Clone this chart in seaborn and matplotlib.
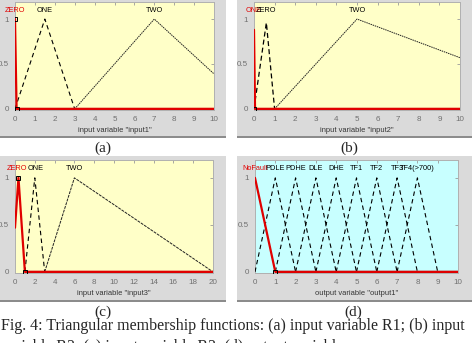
import matplotlib
matplotlib.use("Agg")
import matplotlib.pyplot as plt
import seaborn as sns
import pandas as pd
from matplotlib.patches import Rectangle

# ---- membership functions (vertices of each polyline) ----
# (a) input1, range 0..10
a_names = ["ZERO", "ONE", "TWO"]
a_x = [[0, 0.08, 10], [0, 1.5, 3], [3, 7, 10]]
a_y = [[1, 0, 0], [0, 1, 0], [0, 1, 0.39]]
a_label_x = [0, 1.5, 7]

# (b) input2, range 0..10
b_names = ["ONE", "ZERO", "TWO"]
b_x = [[0, 0.05, 10], [0, 0.6, 1], [1, 5, 10]]
b_y = [[0.88, 0, 0], [0, 0.96, 0], [0, 1, 0.57]]
b_label_x = [0, 0.6, 5]

# (c) input3, range 0..20
c_names = ["ZERO", "ONE", "TWO"]
c_x = [[0, 0.35, 1, 20], [1, 2, 3], [3, 6, 20]]
c_y = [[0.47, 1, 0, 0], [0, 1, 0], [0, 1, 0]]
c_label_x = [0.2, 2.1, 6]

# (d) output1, range 0..10
d_names = ["NoFault", "PDLE", "PDHE", "DLE", "DHE", "TF1", "TF2", "TF3", "TF4(>700)"]
d_peaks = [0, 1, 2, 3, 4, 5, 6, 7, 8]
d_x = [[0, 1, 10]] + [[p - 1, p, p + 1] for p in d_peaks[1:]]
d_y = [[1, 0, 0]] + [[0, 1, 0] for _ in d_peaks[1:]]
d_label_x = d_peaks

x_ticks_a = list(range(0, 11))
x_ticks_c = list(range(0, 21, 2))
y_ticks = [0, 0.5, 1]
y_tick_labels = ["0", "0.5", "1"]

sns.set_theme(style="white")
plt.rcParams['font.family'] = ['Liberation Sans', 'DejaVu Sans']

W, H = 474, 343
fig = plt.figure(figsize=(W / 100, H / 100), dpi=100)
fig.patch.set_facecolor("white")


def fx(px):
    return px / W


def fy(py):
    return 1 - py / H


PANEL_GRAY = "#dadada"
SHADOW = "#8c8c8c"


def panel(x0, y0, x1, y1):
    fig.add_artist(Rectangle((fx(x0), fy(y1)), fx(x1 - x0), (y1 - y0) / H,
                             transform=fig.transFigure, facecolor=PANEL_GRAY,
                             edgecolor="none", zorder=0))
    fig.add_artist(Rectangle((fx(x0), fy(y1 + 2)), fx(x1 - x0), 2.5 / H,
                             transform=fig.transFigure, facecolor=SHADOW,
                             edgecolor="none", zorder=0))


panel(0, 0, 226, 136)
panel(237, 0, 472, 136)
panel(0, 156, 226, 300)
panel(237, 156, 472, 300)


def make_axes(l, r, t, b):
    return fig.add_axes([fx(l), fy(b), fx(r - l), (b - t) / H])


def draw(ax, names, xs, ys, label_x, xlim, xticks, xlabel, bg, styles,
         base_color, markers, label_y=1.1):
    ax.set_facecolor(bg)
    for i, (n, x, y) in enumerate(zip(names, xs, ys)):
        df = pd.DataFrame({"x": x, "y": y})
        st = styles[i]
        sns.lineplot(data=df, x="x", y="y", ax=ax, sort=False, estimator=None,
                     color=st["color"], linewidth=st["lw"],
                     linestyle=st["ls"], zorder=st.get("z", 3))
    # selected function drawn along the baseline
    ax.plot([xs[0][-2], xlim[1]], [0, 0],
            color=base_color, linewidth=1.6, zorder=4, solid_capstyle="butt")
    for (mx, my) in markers:
        ax.plot([mx], [my], marker="s", markersize=2.6, markerfacecolor="none",
                markeredgecolor="black", markeredgewidth=0.7, zorder=6)
    for i, (n, lx) in enumerate(zip(names, label_x)):
        ax.text(lx, label_y, n, ha="center", va="center", fontsize=5.3,
                color="#e00000" if i == 0 else "black", clip_on=False)
    ax.set_xlim(*xlim)
    ax.set_ylim(-0.012, 1.19)
    ax.set_xticks(xticks)
    ax.set_xticklabels([str(t) for t in xticks])
    ax.set_yticks(y_ticks)
    ax.set_yticklabels(y_tick_labels)
    ax.tick_params(axis="both", direction="in", length=2.5, width=0.6,
                   colors="#9a9a9a", labelcolor="#707070", labelsize=5.8,
                   top=True, right=True, pad=4.5)
    ax.set_xlabel(xlabel, fontsize=5.4, color="#333333", labelpad=2.5)
    ax.set_ylabel("")
    for s in ax.spines.values():
        s.set_color("#b0b0b0")
        s.set_linewidth(0.7)


RED = {"color": "#e00000", "lw": 1.6, "ls": "-", "z": 5}
DASH = {"color": "black", "lw": 0.8, "ls": (0, (4, 3))}
FINE = {"color": "#202020", "lw": 0.7, "ls": (0, (1.5, 0.8))}

ax_a = make_axes(15, 214, 2, 110)
draw(ax_a, a_names, a_x, a_y, a_label_x, (0, 10), x_ticks_a,
     'input variable "input1"', "#ffffc8", [RED, DASH, FINE], "#e00000",
     [(0, 1), (0.08, 0)])

ax_b = make_axes(254, 460, 2, 110)
draw(ax_b, b_names, b_x, b_y, b_label_x, (0, 10), x_ticks_a,
     'input variable "input2"', "#ffffc8",
     [RED, {"color": "black", "lw": 0.9, "ls": (0, (4, 2.5))}, FINE],
     "#e00000", [(0, 0)])

ax_c = make_axes(15, 213, 160, 273)
draw(ax_c, c_names, c_x, c_y, c_label_x, (0, 20), x_ticks_c,
     'input variable "input3"', "#ffffc8",
     [RED, DASH, {"color": "#202020", "lw": 0.7, "ls": (0, (3, 1))}],
     "#7a1010", [(0.35, 1), (1, 0)])

ax_d = make_axes(255, 458, 160, 273)
draw(ax_d, d_names, d_x, d_y, d_label_x, (0, 10), x_ticks_a,
     'output variable "output1"', "#c8ffff",
     [RED] + [{"color": "black", "lw": 0.8, "ls": (0, (4, 3))}] * 8,
     "#2a1010", [(1, 0)])

serif = ["Liberation Serif", "DejaVu Serif"]
for lab, cx, cy in [("(a)", 103, 148.5), ("(b)", 349, 148.5),
                    ("(c)", 103, 312), ("(d)", 353, 312)]:
    fig.text(fx(cx), fy(cy), lab, ha="center", va="center", fontsize=11,
             family=serif)

fig.text(fx(1), fy(330),
         "Fig. 4: Triangular membership functions: (a) input variable R1; (b) input",
         ha="left", va="baseline", fontsize=11.5, family=serif)
fig.text(fx(1), fy(351),
         "variable R2; (c) input variable R3; (d) output variable",
         ha="left", va="baseline", fontsize=11.5, family=serif)

fig.savefig("out.png", dpi=100, facecolor="white")
